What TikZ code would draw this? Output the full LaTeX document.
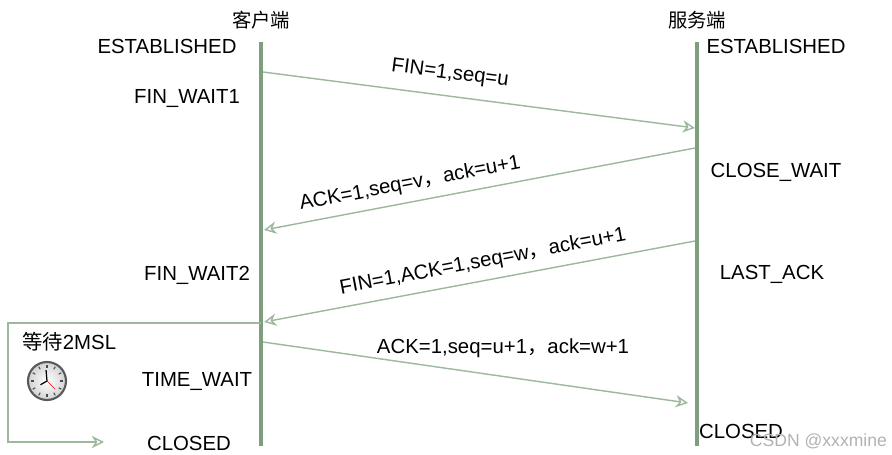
\documentclass[tikz,border=0pt]{standalone}
\usepackage{fontspec}
\setmainfont{Liberation Sans}
\newfontfamily\cjk{Noto Sans CJK SC}
\usetikzlibrary{arrows.meta}
\definecolor{bar}{HTML}{7E9F7E}
\definecolor{ln}{HTML}{9DB89D}
\newcommand{\fc}{{\cjk ，}}
\begin{document}
\begin{tikzpicture}[x=0.02cm,y=-0.02cm,
  lbl/.style={font=\fontsize{11.6}{13}\selectfont,inner sep=1pt},
  msg/.style={draw=ln,line width=0.8pt,-{Stealth[length=7pt,width=7pt,open,fill=white]}},
  barline/.style={draw=bar,line width=2.8pt}]
\useasboundingbox (0,0) rectangle (892,455);
\fill[white] (0,0) rectangle (892,455);
% bars
\coordinate (ct) at (261,42); \coordinate (cb) at (261,446);
\coordinate (st) at (697,42); \coordinate (sb) at (697,446);
\draw[barline] (ct) -- (cb);
\draw[barline] (st) -- (sb);
\node[lbl,font=\cjk\fontsize{11}{12}\selectfont] (ch) at (261,20) {客户端};
\node[lbl,font=\cjk\fontsize{11}{12}\selectfont] (sh) at (697,20) {服务端};
% states
\node[lbl] (c1) at (167,46) {ESTABLISHED};
\node[lbl] (c2) at (187,99) {FIN\_WAIT1};
\node[lbl] (c3) at (197,275) {FIN\_WAIT2};
\node[lbl] (c4) at (197,382) {TIME\_WAIT};
\node[lbl] (c5) at (189,443) {CLOSED};
\node[lbl] (s1) at (776,46) {ESTABLISHED};
\node[lbl] (s2) at (776,172) {CLOSE\_WAIT};
\node[lbl] (s3) at (772,274) {LAST\_ACK};
\node[lbl] (s4) at (741,431) {CLOSED};
% messages
\coordinate (a1s) at (263,72); \coordinate (a1e) at (695,128);
\coordinate (a2s) at (695,148); \coordinate (a2e) at (264,230);
\coordinate (a3s) at (695,241); \coordinate (a3e) at (264,322);
\coordinate (a4s) at (263,342); \coordinate (a4e) at (688,403);
\draw[msg] (a1s) -- (a1e);
\draw[msg] (a2s) -- (a2e);
\draw[msg] (a3s) -- (a3e);
\draw[msg] (a4s) -- (a4e);
\node[lbl,rotate=-7.4] (m1) at (450,74) {FIN=1,seq=u};
\node[lbl,rotate=10.7] (m2) at (410,184) {ACK=1,seq=v\fc ack=u+1};
\node[lbl,rotate=10.7] (m3) at (483,262) {FIN=1,ACK=1,seq=w\fc ack=u+1};
\node[lbl] (m4) at (503,348) {ACK=1,seq=u+1\fc ack=w+1};
% wait box
\coordinate (w1) at (261,323); \coordinate (w2) at (8,323);
\coordinate (w3) at (8,442); \coordinate (w4) at (104,442);
\draw[msg] (w1) -- (w2) -- (w3) -- (w4);
\node[lbl,anchor=west] (wt) at (20,342) {{\cjk 等待}2MSL};
% clock
\node[circle,minimum size=0.76cm,inner sep=0pt,draw=gray!70!black,line width=1.2pt,
  shade,inner color=white,outer color=gray!35] (clk) at (47,381) {};
\foreach \a in {0,30,...,330} \draw[gray!60!black,line width=0.6pt] (clk.center) ++(\a:0.27cm) -- ++(\a:0.06cm);
\draw[black,line width=0.7pt] (clk.center) -- ++(95:0.22cm);
\draw[black,line width=0.7pt] (clk.center) -- ++(-150:0.15cm);
\draw[red,line width=0.4pt] (clk.center) -- ++(-45:0.22cm);
% watermark
\node[lbl,font=\fontsize{10}{12}\selectfont,text=gray!60,anchor=east] (wm) at (889,441) {CSDN @xxxmine};
\end{tikzpicture}
\end{document}
